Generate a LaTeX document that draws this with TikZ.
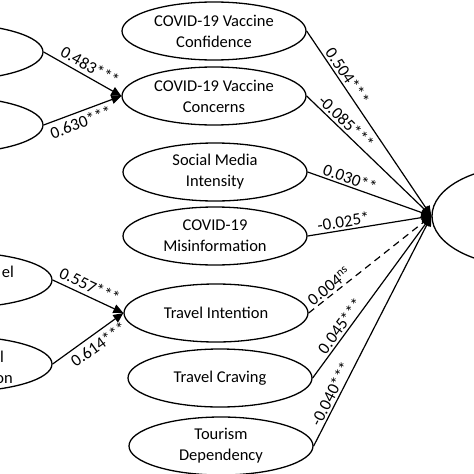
\documentclass[tikz,border=0pt]{standalone}
\usepackage{fontspec}
\setmainfont{Carlito}
\usetikzlibrary{arrows.meta,positioning,shapes.geometric}

\begin{document}
\begin{tikzpicture}[
  x=1pt, y=-1pt,
  font=\fontsize{16.5}{21}\selectfont,
  var/.style={draw, ellipse, line width=1.3pt, align=center, inner sep=0pt,
    minimum width=184pt, minimum height=58pt},
  arrow/.style={-{Triangle[length=10pt,width=9pt]}, line width=1.2pt},
  coef/.style={inner sep=2pt, sloped, font=\fontsize{17}{21}\selectfont},
  farcoef/.style={coef, inner sep=4pt}
]
\clip (0,0) rectangle (474,474);
% left column (cut off by the frame)
\node[var, minimum height=56pt] (ul1) at (-49,52) {};
\node[var, minimum height=56pt] (ul2) at (-49,125) {};
\node[var, minimum height=55pt] (ll1) at (-40,280) {};
\node[var, minimum height=55pt] (ll2) at (-40,364) {};
\node[anchor=base east, inner sep=0pt] (ll1a) at (14,277) {el};
\node[anchor=base east, inner sep=0pt] (ll2a) at (4,362) {l};
\node[anchor=base east, inner sep=0pt] (ll2b) at (13,383) {on};
% middle column
\node[var] (conf) at (214,31) {COVID-19 Vaccine\\Confidence};
\node[var] (conc) at (214,96) {COVID-19 Vaccine\\Concerns};
\node[var] (smi) at (215,172) {Social Media\\Intensity};
\node[var] (mis) at (215,236) {COVID-19\\Misinformation};
\node[var] (ti) at (216,313) {Travel Intention};
\node[var] (tc) at (220,378) {Travel Craving};
\node[var] (td) at (221,446) {Tourism\\Dependency};
% outcome (cut off by the frame)
\node[var, minimum height=100pt] (out) at (524,216) {};
% paths
\draw[arrow] (ul1.east) -- node[farcoef, above, pos=0.53] {0.483***} (conc.west);
\draw[arrow] (ul2.east) -- node[farcoef, below, pos=0.43] {0.630***} (conc.west);
\draw[arrow] (ll1.east) -- node[farcoef, above, pos=0.46] {0.557***} (ti.west);
\draw[arrow] (ll2.east) -- node[farcoef, below, pos=0.56] {0.614***} (ti.west);
\draw[arrow] (conf.east) -- node[coef, above, pos=0.27] {0.504***} (out.west);
\draw[arrow] (conc.east) -- node[coef, above, pos=0.27] {-0.085***} (out.west);
\draw[arrow] (smi.east) -- node[coef, above, pos=0.32] {0.030**} (out.west);
\draw[arrow] (mis.east) -- node[coef, above, pos=0.30] {-0.025*} (out.west);
\draw[arrow, dash pattern=on 7pt off 5pt] (ti.east) -- node[coef, above, pos=0.21] {0.004\textsuperscript{ns}} (out.west);
\draw[arrow] (tc.east) -- node[coef, above, pos=0.29] {0.045***} (out.west);
\draw[arrow] (td.east) -- node[coef, above, pos=0.21] {-0.040***} (out.west);
\end{tikzpicture}
\end{document}
